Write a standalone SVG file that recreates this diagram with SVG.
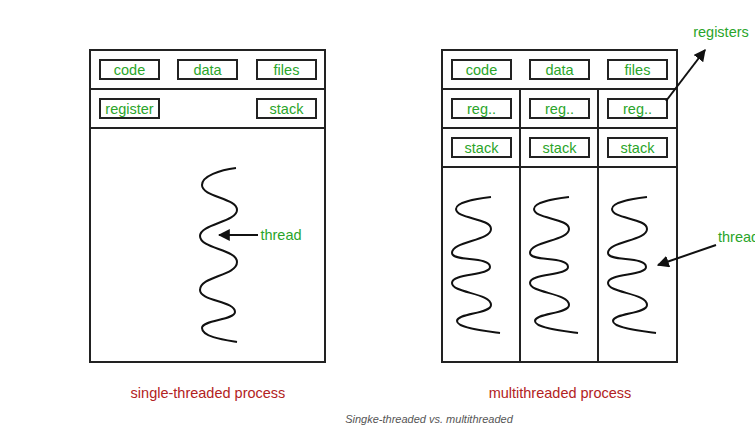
<svg xmlns="http://www.w3.org/2000/svg" width="755" height="435" viewBox="0 0 755 435">
<defs>
<style>
.frame{fill:none;stroke:#222;stroke-width:2}
.box{fill:#fff;stroke:#222;stroke-width:2}
.t{font-family:"Liberation Sans",Arial,sans-serif;font-size:14.5px;fill:#2aa52a;text-anchor:middle}
.r{font-family:"Liberation Sans",Arial,sans-serif;font-size:14.5px;fill:#b22222;text-anchor:middle}
.w{fill:none;stroke:#111;stroke-width:2}
.a{stroke:#111;stroke-width:2;fill:none}
</style>
<marker id="ah" viewBox="0 0 10 10" refX="9" refY="5" markerWidth="6" markerHeight="6" orient="auto"><path d="M0,0L10,5L0,10z" fill="#111"/></marker>
<path id="sq" class="w" d="M491,197 C475,199 456,202 456,209 C456,219 491,218 491,229 C491,241 452,241 452,253 C452,262 490,256 490,267 C490,276 452,273 452,283 C452,293 491,293 491,305 C491,314 457,313 457,321 C457,328 485,331 500,333"/>
</defs>
<rect width="755" height="435" fill="#fff"/>
<g id="single">
<rect class="frame" x="90" y="50" width="235" height="312"/>
<line class="frame" x1="90" y1="89" x2="325" y2="89"/>
<line class="frame" x1="90" y1="128" x2="325" y2="128"/>
<rect class="box" x="100" y="60" width="59" height="19"/><text class="t" x="129.5" y="75">code</text>
<rect class="box" x="178" y="60" width="59" height="19"/><text class="t" x="207.5" y="75">data</text>
<rect class="box" x="257" y="60" width="59" height="19"/><text class="t" x="286.5" y="75">files</text>
<rect class="box" x="100" y="99" width="59" height="19"/><text class="t" x="129.5" y="114">register</text>
<rect class="box" x="257" y="99" width="59" height="19"/><text class="t" x="286.5" y="114">stack</text>
<path class="w" d="M236,168 C220,170 202,176 202,185 C202,197 237,198 237,210 C237,222 200,224 200,236 C200,249 237,249 237,262 C237,276 200,276 200,290 C200,301 235,301 235,312 C235,320 202,320 202,328 C202,337 225,340 237,342"/>
<text class="t" x="281" y="240">thread</text>
</g>
<g id="multi">
<rect class="frame" x="442" y="50" width="235" height="312"/>
<line class="frame" x1="442" y1="89" x2="677" y2="89"/>
<line class="frame" x1="442" y1="128" x2="677" y2="128"/>
<line class="frame" x1="442" y1="167" x2="677" y2="167"/>
<line class="frame" x1="520" y1="89" x2="520" y2="362"/>
<line class="frame" x1="598" y1="89" x2="598" y2="362"/>
<rect class="box" x="452" y="60" width="59" height="19"/><text class="t" x="481.5" y="75">code</text>
<rect class="box" x="530" y="60" width="59" height="19"/><text class="t" x="559.5" y="75">data</text>
<rect class="box" x="608" y="60" width="59" height="19"/><text class="t" x="637.5" y="75">files</text>
<rect class="box" x="452" y="99" width="59" height="19"/><text class="t" x="481.5" y="114">reg..</text>
<rect class="box" x="530" y="99" width="59" height="19"/><text class="t" x="559.5" y="114">reg..</text>
<rect class="box" x="608" y="99" width="59" height="19"/><text class="t" x="637.5" y="114">reg..</text>
<rect class="box" x="452" y="138" width="59" height="19"/><text class="t" x="481.5" y="153">stack</text>
<rect class="box" x="530" y="138" width="59" height="19"/><text class="t" x="559.5" y="153">stack</text>
<rect class="box" x="608" y="138" width="59" height="19"/><text class="t" x="637.5" y="153">stack</text>
<use href="#sq"/>
<use href="#sq" x="78"/>
<use href="#sq" x="156"/>
<text class="t" x="721" y="37">registers</text>
<text class="t" x="718" y="242" style="text-anchor:start">thread</text>
</g>
<g id="connectors">
<line class="a" x1="258" y1="235" x2="219" y2="235" marker-end="url(#ah)"/>
<line class="a" x1="666" y1="101" x2="705" y2="50" marker-end="url(#ah)"/>
<line class="a" x1="716" y1="245" x2="658" y2="265" marker-end="url(#ah)"/>
</g>
<text class="r" x="208" y="398">single-threaded process</text>
<text class="r" x="560" y="398">multithreaded process</text>
<text x="429" y="423" style="font-family:'Liberation Sans',Arial,sans-serif;font-size:11px;font-style:italic;fill:#555;text-anchor:middle">Singke-threaded vs. multithreaded</text>
</svg>
